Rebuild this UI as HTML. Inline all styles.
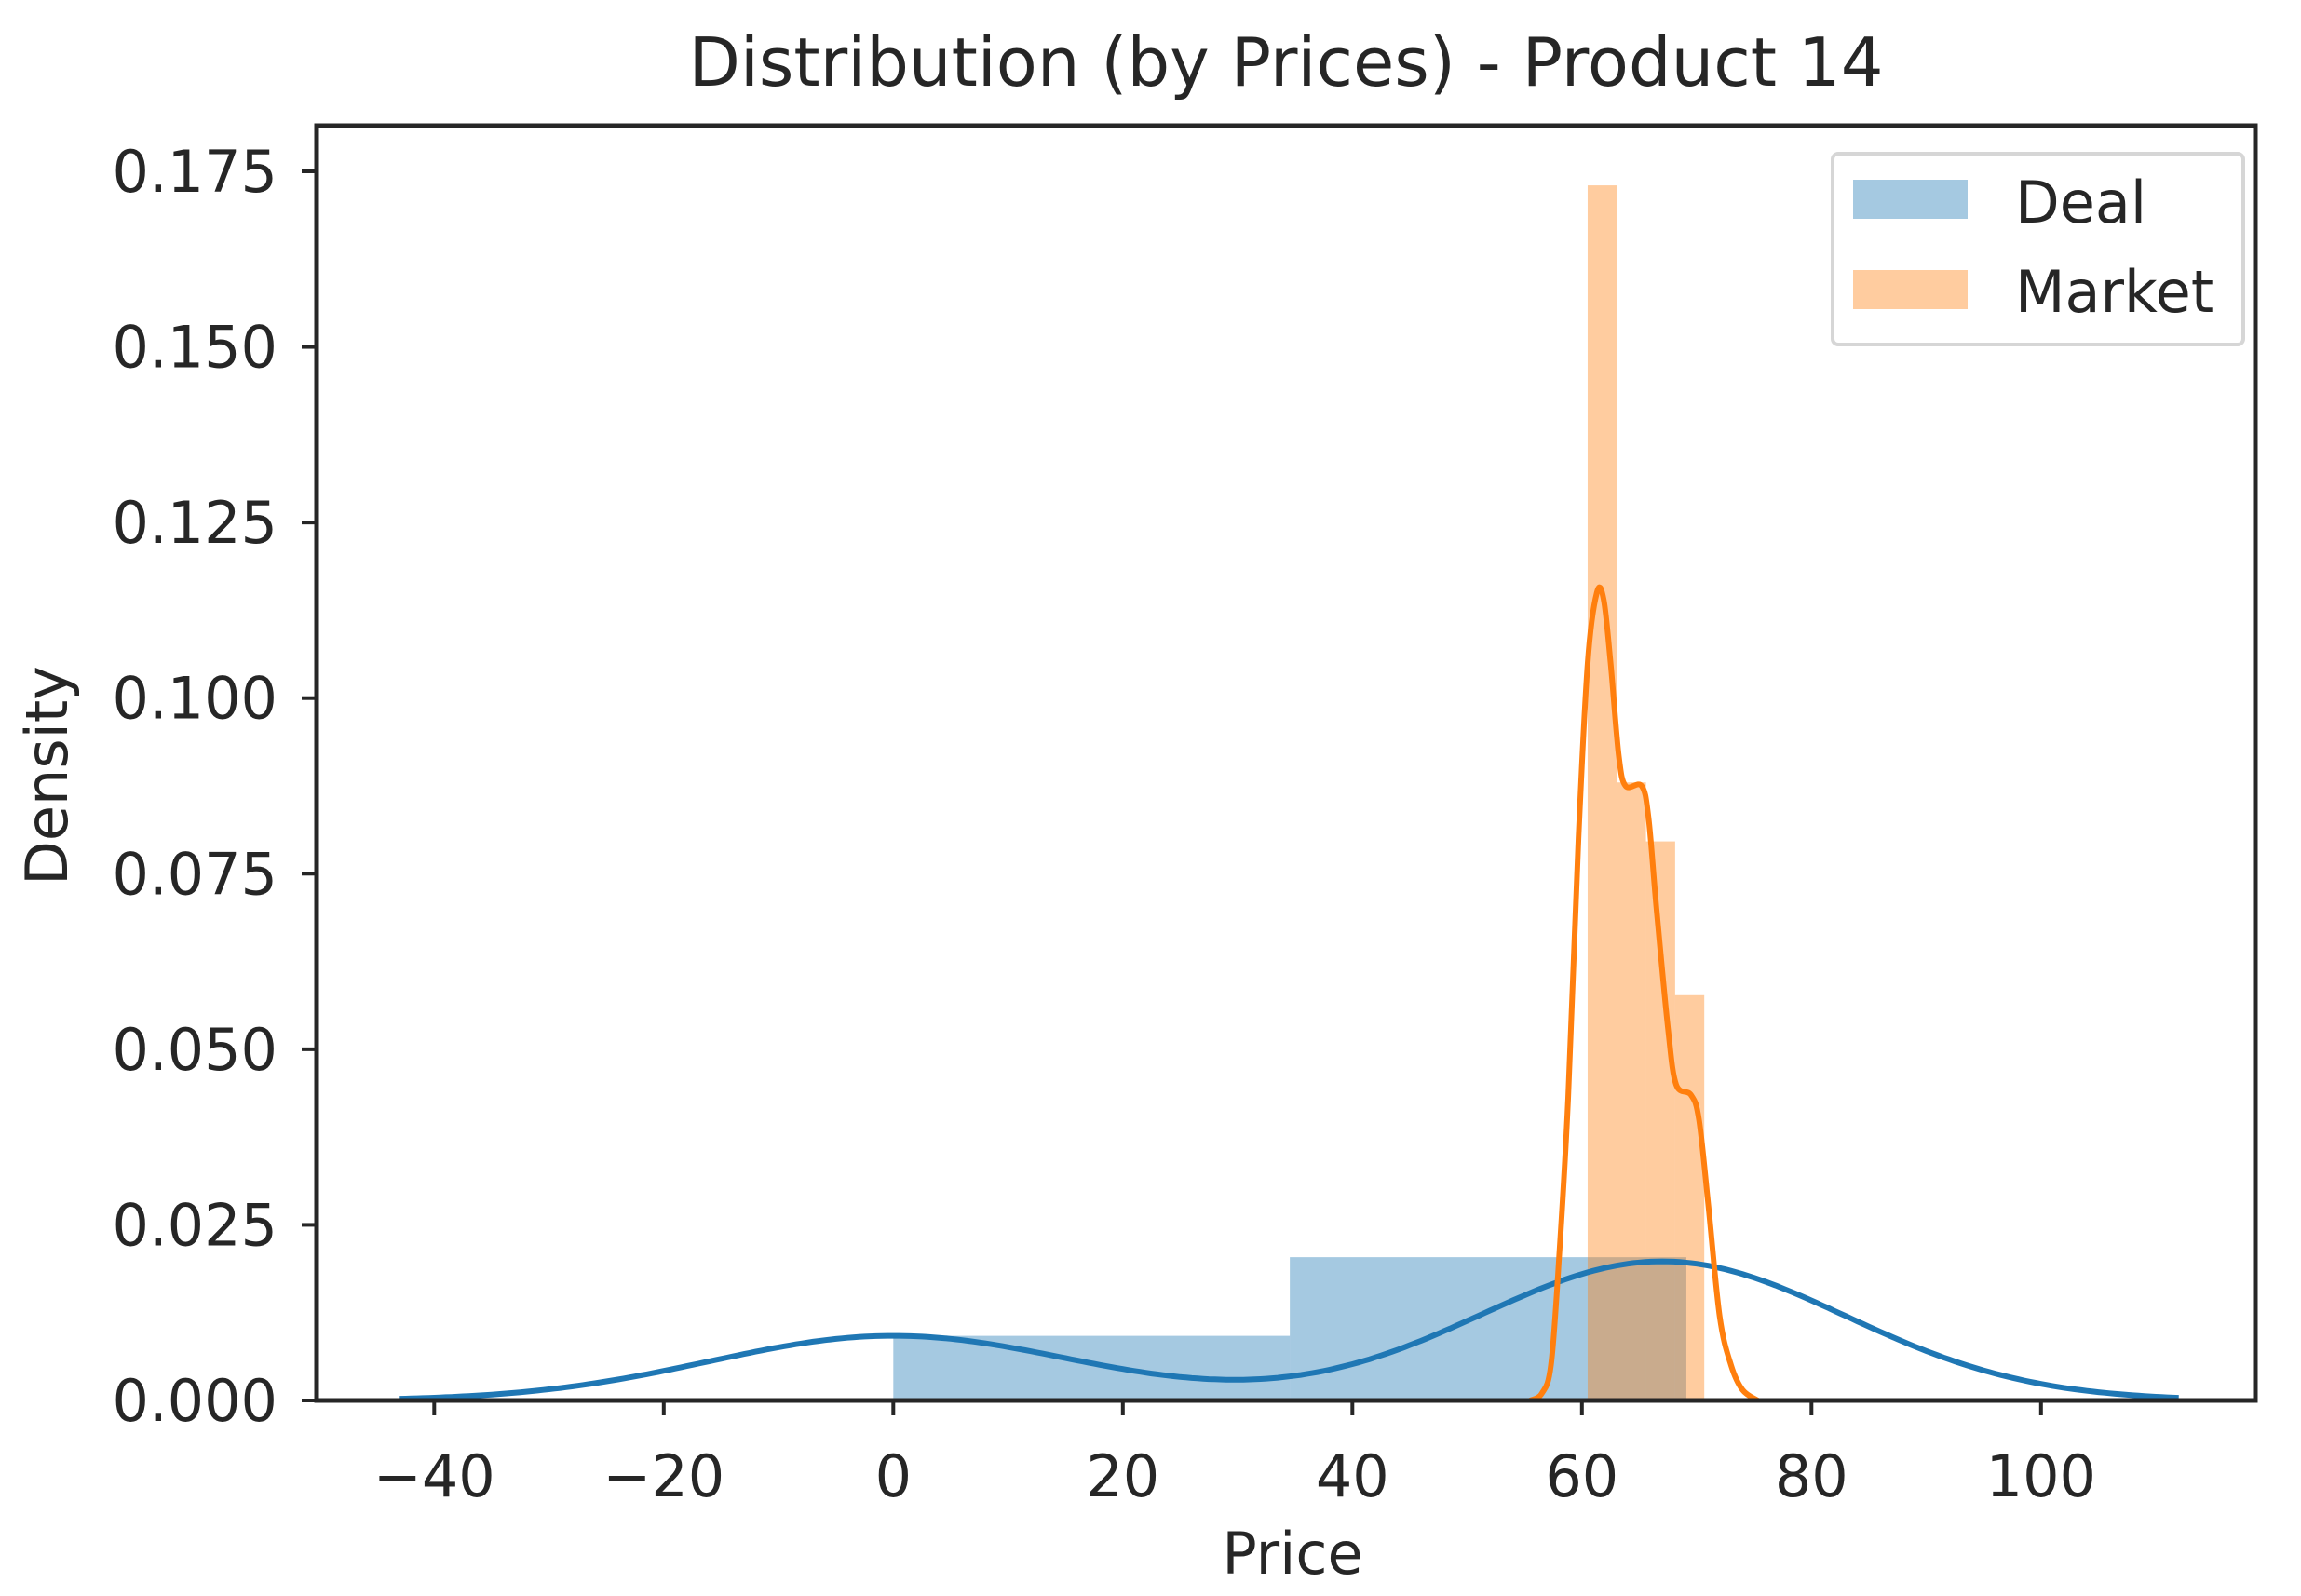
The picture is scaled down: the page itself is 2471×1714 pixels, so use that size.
<!DOCTYPE html>
<html><head><meta charset="utf-8"><style>
html,body{margin:0;padding:0;background:#fff}
svg{display:block}
text{font-family:"DejaVu Sans","Liberation Sans",sans-serif;fill:#262626}
</style></head><body>
<svg id="s" width="2471" height="1714" viewBox="0 0 2471 1714" xmlns="http://www.w3.org/2000/svg">
<rect width="2471" height="1714" fill="#fff"/>
<g id="bars"></g>
<path id="kd" fill="none" stroke="#1f77b4" stroke-width="6"/>
<path id="km" fill="none" stroke="#ff7f0e" stroke-width="6" stroke-linejoin="round"/>
<rect x="340" y="135" width="2082" height="1369" fill="none" stroke="#262626" stroke-width="5"/>
<g id="ticks" stroke="#262626" stroke-width="4"></g>
<g id="labels" font-size="62"></g>
<text x="1381" y="92" font-size="72" text-anchor="middle">Distribution (by Prices) - Product 14</text>
<text x="1388" y="1690" font-size="62" text-anchor="middle">Price</text>
<text transform="translate(72,833) rotate(-90)" font-size="62" text-anchor="middle">Density</text>
<rect x="1968" y="165" width="441" height="205" rx="6" fill="#fff" fill-opacity="0.8" stroke="#d6d6d6" stroke-width="4"/>
<rect x="1990" y="193" width="123" height="42" fill="#1f77b4" fill-opacity="0.4"/>
<rect x="1990" y="290" width="123" height="42" fill="#ff7f0e" fill-opacity="0.4"/>
<text x="2164" y="239" font-size="62">Deal</text>
<text x="2164" y="335" font-size="62">Market</text>
</svg>
<script>
var X=function(v){return 959.3+12.325*v;};
var Y=function(d){return 1504-d*(1320/0.175);};
var ns="http://www.w3.org/2000/svg";
function el(p,t,a,txt){var e=document.createElementNS(ns,t);for(var k in a)e.setAttribute(k,a[k]);if(txt)e.textContent=txt;p.appendChild(e);return e;}
var bars=document.getElementById('bars');
[[0,34.55,0.0092],[34.55,69.1,0.0204]].forEach(function(b){el(bars,'rect',{x:X(b[0]),y:Y(b[2]),width:X(b[1])-X(b[0]),height:Y(0)-Y(b[2]),fill:'#1f77b4','fill-opacity':0.4});});
var mb=[60.5,63.04,65.58,68.12,70.66],mh=[0.173,0.088,0.0796,0.0577];
for(var i=0;i<4;i++)el(bars,'rect',{x:X(mb[i]),y:Y(mh[i]),width:X(mb[i+1])-X(mb[i]),height:Y(0)-Y(mh[i]),fill:'#ff7f0e','fill-opacity':0.4});
function g(x,m,s){return Math.exp(-(x-m)*(x-m)/(2*s*s));}
var d='';for(var x=-43;x<=112;x+=0.5){var v=0.0092*g(x,0,16)+0.0198*g(x,67,16);d+=(d?'L':'M')+X(x).toFixed(1)+','+Y(v).toFixed(1);}
document.getElementById('kd').setAttribute('d',d);
var P=[[55.5,0],[56.5,0.001],[57.3,0.005],[58,0.02],[58.8,0.043],[59.7,0.08],[60.5,0.105],[61.3,0.115],[61.9,0.114],[62.5,0.105],[63.2,0.092],[63.8,0.0875],[65.2,0.0875],[65.8,0.083],[66.5,0.07],[67.5,0.053],[68.2,0.045],[69.5,0.0435],[70.2,0.04],[71,0.028],[72,0.012],[73,0.005],[74,0.0015],[75.3,0]];
d='M'+X(P[0][0])+','+Y(P[0][1]);
for(var i=0;i<P.length-1;i++){var p0=P[Math.max(i-1,0)],p1=P[i],p2=P[i+1],p3=P[Math.min(i+2,P.length-1)];
var a=[X(p0[0]),Y(p0[1])],b=[X(p1[0]),Y(p1[1])],c=[X(p2[0]),Y(p2[1])],e=[X(p3[0]),Y(p3[1])];
var c1=[b[0]+(c[0]-a[0])/6,b[1]+(c[1]-a[1])/6],c2=[c[0]-(e[0]-b[0])/6,c[1]-(e[1]-b[1])/6];
d+='C'+c1[0].toFixed(1)+','+c1[1].toFixed(1)+' '+c2[0].toFixed(1)+','+c2[1].toFixed(1)+' '+c[0].toFixed(1)+','+c[1].toFixed(1);}
document.getElementById('km').setAttribute('d',d);
var tk=document.getElementById('ticks'),lb=document.getElementById('labels');
for(var v=-40;v<=100;v+=20){el(tk,'line',{x1:X(v),x2:X(v),y1:1504,y2:1520});el(lb,'text',{x:X(v),y:1607,'text-anchor':'middle'},(v<0?'\u2212'+(-v):''+v));}
for(var i=0;i<=7;i++){var dv=i*0.025,y=Y(dv);el(tk,'line',{x1:324,x2:340,y1:y,y2:y});el(lb,'text',{x:298,y:y+22,'text-anchor':'end'},dv.toFixed(3));}
</script>
</body></html>
